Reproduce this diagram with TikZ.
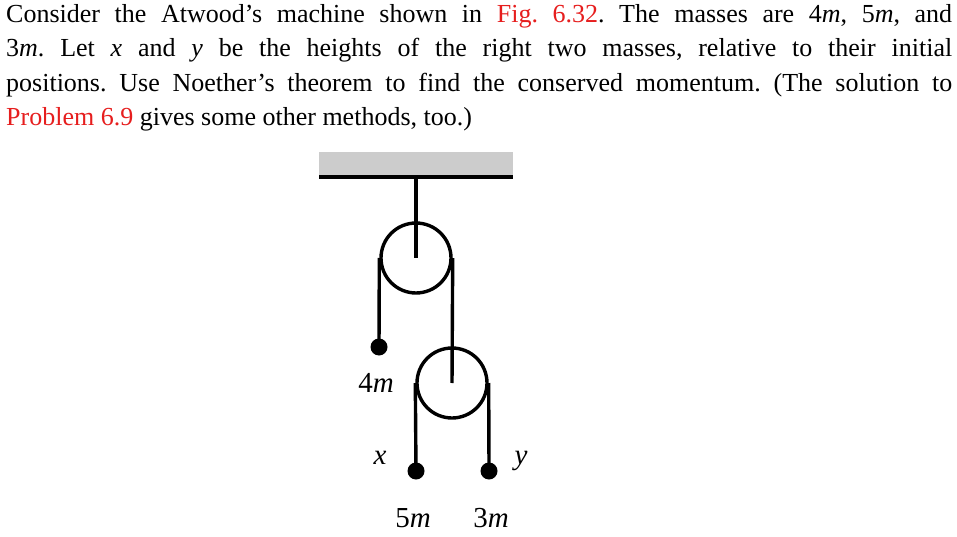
\documentclass[tikz,border=0pt]{standalone}
\usepackage{fontspec}
\setmainfont{Liberation Serif}
\definecolor{figred}{RGB}{230,30,30}
\begin{document}
\begin{tikzpicture}[x=1pt,y=-1pt,
  rope/.style={line width=3.4pt},
  wheel/.style={circle,draw,line width=3.4pt,minimum size=70pt,inner sep=0pt},
  bob/.style={circle,fill=black,minimum size=17pt,inner sep=0pt},
  lbl/.style={font=\fontsize{29}{32}\selectfont\itshape}]
\useasboundingbox (0,0) rectangle (957,537);
\node[anchor=north west,text width=946pt,align=justify,inner sep=0pt,font=\fontsize{26}{34.5}\selectfont\frenchspacing] (txt) at (6,4)
{Consider the Atwood’s machine shown in \textcolor{figred}{Fig. 6.32}. The masses are 4\textit{m}, 5\textit{m}, and\linebreak
3\textit{m}. Let \textit{x} and \textit{y} be the heights of the right two masses, relative to their initial\linebreak
positions. Use Noether’s theorem to find the conserved momentum. (The solution to\linebreak
\textcolor{figred}{Problem 6.9} gives some other methods, too.)};
\fill[gray!40] (319,152) rectangle (513,178);
\draw[line width=3.4pt] (319,177) -- (513,177);
\coordinate (hook) at (416,177);
\node[wheel] (p1) at (416,258) {};
\node[wheel] (p2) at (452,383) {};
\node[bob] (m4) at (379,347) {};
\node[bob] (m5) at (416,471) {};
\node[bob] (m3) at (489,471) {};
\draw[rope] (hook) -- (p1.center);
\draw[rope] (p1.west) -- (m4.center);
\draw[rope] (p1.east) -- (p2.center);
\draw[rope] (p2.west) -- (m5.center);
\draw[rope] (p2.east) -- (m3.center);
\node[lbl] (l4) at (376,383) {\upshape 4\itshape m};
\node[lbl] (lx) at (380,458) {x};
\node[lbl] (ly) at (521,461) {y};
\node[lbl] (l5) at (413,518) {\upshape 5\itshape m};
\node[lbl] (l3) at (491,518) {\upshape 3\itshape m};
\end{tikzpicture}
\end{document}
